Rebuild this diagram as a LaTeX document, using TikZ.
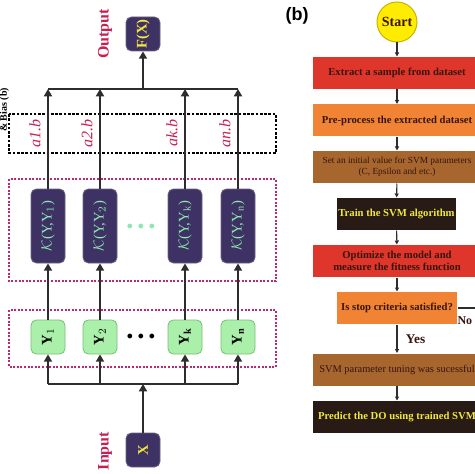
\documentclass[tikz,border=0pt]{standalone}
\usepackage{fontspec}
\setmainfont{Liberation Serif}
\newfontfamily\panelfont{Liberation Sans}
\usetikzlibrary{arrows.meta}

\definecolor{boxpurple}{RGB}{62,49,100}
\definecolor{boxedge}{RGB}{110,100,130}
\definecolor{ygreen}{RGB}{170,240,170}
\definecolor{yedge}{RGB}{120,190,120}
\definecolor{kgreen}{RGB}{140,232,175}
\definecolor{crimson}{RGB}{200,30,80}
\definecolor{pinkdash}{RGB}{190,40,110}
\definecolor{linegray}{RGB}{45,45,45}
\definecolor{fred}{RGB}{222,54,42}
\definecolor{forange}{RGB}{240,132,52}
\definecolor{fbrown}{RGB}{166,102,46}
\definecolor{fdark}{RGB}{40,26,20}
\definecolor{ftext}{RGB}{55,20,15}
\definecolor{fyellow}{RGB}{240,232,60}
\definecolor{startyellow}{RGB}{255,236,0}

\tikzset{every picture/.style={line width=0.75pt}}
\tikzset{
  purplebox/.style={draw=boxedge, fill=boxpurple, rounded corners=4pt, line width=0.6pt, inner sep=0pt, rotate=90},
  ybox/.style={draw=yedge, fill=ygreen, rounded corners=4pt, line width=0.6pt, inner sep=0pt, rotate=90, minimum width=25.5pt, minimum height=25.5pt, font=\bfseries\fontsize{11}{12}\selectfont},
  kbox/.style={purplebox, minimum width=55.5pt, minimum height=25.5pt, text=kgreen, font=\fontsize{11}{12}\selectfont},
  sidelabel/.style={rotate=90, text=crimson, font=\bfseries\fontsize{12}{13}\selectfont},
  wlabel/.style={rotate=90, text=crimson, font=\itshape\fontsize{12}{13}\selectfont},
  arr/.style={draw=linegray, line width=1.5pt, -{Triangle[length=5.5pt,width=6pt]}},
  bus/.style={draw=linegray, line width=1.5pt},
  flowbox/.style={inner sep=0pt, minimum width=126pt, minimum height=24pt, align=center, text=ftext, font=\bfseries\fontsize{8}{9}\selectfont},
  flowarr/.style={draw=linegray, line width=0.8pt, -{Triangle[length=3pt,width=3pt]}},
}

\begin{document}
\begin{tikzpicture}[x=0.75pt,y=0.75pt,yscale=-1,xscale=1]
    \useasboundingbox (0,0) rectangle (474,474);

    %%%%%%%% (a) left panel %%%%%%%%
    % Dashed Rectangles
    \draw [dash pattern=on 2pt off 1.2pt, line width=0.8pt] (9,114) rectangle (276,153);
    \draw [pinkdash, dash pattern=on 1.5pt off 1.2pt, line width=0.8pt] (9,179) rectangle (276,281);
    \draw [pinkdash, dash pattern=on 1.5pt off 1.2pt, line width=0.8pt] (9,310) rectangle (276,367);

    % Output box
    \node (fx) [purplebox, minimum width=25.5pt, minimum height=25.5pt, text=fyellow, font=\bfseries\fontsize{11}{12}\selectfont] at (143,34) {F(X)};
    % Input box
    \node (x) [purplebox, minimum width=25.5pt, minimum height=25.5pt, text=fyellow, font=\bfseries\fontsize{11}{12}\selectfont] at (143,450) {X};

    % Text Node
    \node (outlbl) [sidelabel] at (105,34) {Output};
    % Text Node
    \node (inlbl) [sidelabel] at (105,451) {Input};
    % Text Node
    \node (wblbl) [rotate=90, inner sep=0pt, font=\bfseries\fontsize{7.5}{8}\selectfont] at (4.5,110) {\& Bias (b)};

    % Kernel boxes
    \node (k1) [kbox] at (48,226) {$\mathcal{K}$(Y,Y$_{1}$)};
    \node (k2) [kbox] at (100,226) {$\mathcal{K}$(Y,Y$_{2}$)};
    \node (kk) [kbox] at (185,226) {$\mathcal{K}$(Y,Y$_{\mathrm{k}}$)};
    \node (kn) [kbox] at (238,226) {$\mathcal{K}$(Y,Y$_{\mathrm{n}}$)};
    \node (kdots) [text=kgreen, font=\small] at (141,227) {$\bullet\,\bullet\,\bullet$};

    % Y boxes
    \node (y1) [ybox] at (48,337) {Y$_{1}$};
    \node (y2) [ybox] at (100,337) {Y$_{2}$};
    \node (yk) [ybox] at (185,337) {Y$_{\mathbf{k}}$};
    \node (yn) [ybox] at (238,337) {Y$_{\mathbf{n}}$};
    \node (ydots) [font=\small] at (141,337) {$\bullet\,\bullet\,\bullet$};

    % Weight labels
    \node (w1) [wlabel] at (35,133) {a1.b};
    \node (w2) [wlabel] at (87,133) {a2.b};
    \node (wk) [wlabel] at (172,133) {ak.b};
    \node (wn) [wlabel] at (225,133) {an.b};

    % Bus coordinates
    \coordinate (t1) at (48,89);
    \coordinate (t2) at (100,89);
    \coordinate (tk) at (185,89);
    \coordinate (tn) at (238,89);
    \coordinate (tm) at (143,89);
    \coordinate (b1) at (48,384);
    \coordinate (b2) at (100,384);
    \coordinate (bk) at (185,384);
    \coordinate (bn) at (238,384);
    \coordinate (bm) at (143,384);

    %Straight Lines
    \draw [bus] (t1) -- (tn);
    \draw [bus] (b1) -- (bn);
    \draw [arr] (tm) -- (fx);
    \draw [arr] (x) -- (bm);
    \draw [arr] (b1) -- (y1);
    \draw [arr] (b2) -- (y2);
    \draw [arr] (bk) -- (yk);
    \draw [arr] (bn) -- (yn);
    \draw [arr] (y1) -- (k1);
    \draw [arr] (y2) -- (k2);
    \draw [arr] (yk) -- (kk);
    \draw [arr] (yn) -- (kn);
    \draw [arr] (k1) -- (t1);
    \draw [arr] (k2) -- (t2);
    \draw [arr] (kk) -- (tk);
    \draw [arr] (kn) -- (tn);

    %%%%%%%% (b) right panel %%%%%%%%
    % Text Node
    \node (blbl) [font=\panelfont\bfseries\fontsize{13.5}{14}\selectfont] at (297,16) {(b)};

    %Flowchart: Connector
    \node (start) [circle, draw={rgb,255:red,200;green,180;blue,0}, fill=startyellow, minimum size=30pt, inner sep=0pt, text=ftext, font=\bfseries\fontsize{10.5}{11}\selectfont] at (397,22) {Start};
    %Flowchart: Process
    \node (s1) [flowbox, fill=fred] at (397,73) {Extract a sample from dataset};
    \node (s2) [flowbox, fill=forange] at (397,120.5) {Pre-process the extracted dataset};
    \node (s3) [flowbox, fill=fbrown, font=\fontsize{7}{8}\selectfont] at (397,167) {Set an initial value for SVM parameters\\(C, Epsilon and etc.)};
    \node (s4) [flowbox, fill=fdark, minimum width=89pt, text=fyellow] at (396.5,214) {Train the SVM algorithm};
    \node (s5) [flowbox, fill=fred] at (397,261) {Optimize the model and\\measure the fitness function};
    \node (s6) [flowbox, fill=forange, minimum width=90pt] at (397,308) {Is stop criteria satisfied?};
    \node (s7) [flowbox, fill=fbrown, font=\fontsize{7.8}{9}\selectfont] at (397,369.5) {SVM parameter tuning was sucessful};
    \node (s8) [flowbox, fill=fdark, text=fyellow] at (397,417) {Predict the DO using trained SVM};

    %Straight Lines
    \draw [flowarr] (start) -- (s1);
    \draw [flowarr] (s1) -- (s2);
    \draw [flowarr] (s2) -- (s3);
    \draw [flowarr] (s3) -- (s4);
    \draw [flowarr] (s4) -- (s5);
    \draw [flowarr] (s5) -- (s6);
    \draw [flowarr] (s6) -- (s7);
    \draw [flowarr] (s7) -- (s8);
    \coordinate (noend) at (484,308);
    \draw [draw=linegray, line width=0.8pt] (s6) -- (noend);

    % Text Node
    \node (yes) [anchor=west, text=ftext, font=\bfseries\fontsize{10}{11}\selectfont] at (401,339) {Yes};
    % Text Node
    \node (no) [anchor=east, inner sep=1pt, text=ftext, font=\bfseries\fontsize{9}{10}\selectfont] at (474,321) {No};

\end{tikzpicture}
\end{document}
